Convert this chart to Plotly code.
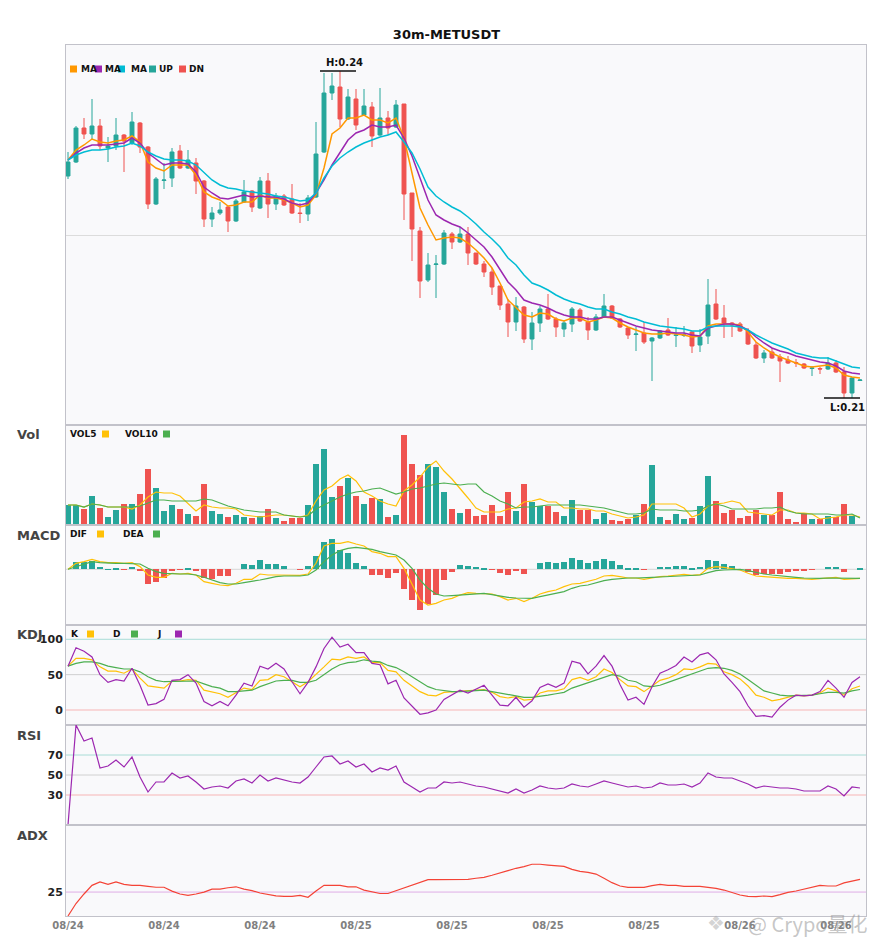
import plotly.graph_objects as go
from plotly.subplots import make_subplots

# 30m candles, METUSDT
open_ = [0.2315, 0.2329, 0.2363, 0.2357, 0.2365, 0.2343, 0.2345, 0.2356, 0.2348, 0.2368,
         0.2344, 0.2287, 0.23105, 0.2313, 0.2340, 0.2323, 0.2328, 0.2310, 0.2272, 0.2278,
         0.2284, 0.2270, 0.2289, 0.2300, 0.2283, 0.2310, 0.2287, 0.2295, 0.2292, 0.2278,
         0.2277, 0.2294, 0.2339, 0.2398, 0.2404, 0.2372, 0.2392, 0.2376, 0.2384, 0.2356,
         0.2373, 0.2364, 0.2387, 0.2298, 0.2260, 0.2211, 0.22265, 0.2227, 0.2257, 0.2249,
         0.2257, 0.2238, 0.2227, 0.2219, 0.2205, 0.2187, 0.2169, 0.2184, 0.2152, 0.2168,
         0.2182, 0.2172, 0.2162, 0.2167, 0.2181, 0.2169, 0.2161, 0.2174, 0.2185, 0.2172,
         0.2163, 0.21565, 0.2158, 0.2150, 0.2153, 0.2161, 0.21555, 0.21555, 0.2159, 0.2146,
         0.2155, 0.2187, 0.2173, 0.2168, 0.2167, 0.2160, 0.2146, 0.2133, 0.2139, 0.2134,
         0.2131, 0.21285, 0.2127, 0.21225, 0.21225, 0.2122, 0.2128, 0.2119, 0.2098, 0.21105]
close_ = [0.2329, 0.2363, 0.2357, 0.2365, 0.2345, 0.2345, 0.2356, 0.2350, 0.2369, 0.2344,
          0.2287, 0.2312, 0.2311, 0.2339, 0.2323, 0.2331, 0.2310, 0.2272, 0.2278, 0.2281,
          0.2270, 0.2290, 0.2299, 0.2284, 0.2310, 0.2287, 0.2295, 0.2286, 0.2278, 0.22775,
          0.2293, 0.2337, 0.2398, 0.2405, 0.2372, 0.2394, 0.2366, 0.2385, 0.2355, 0.2373,
          0.2363, 0.2386, 0.2297, 0.2262, 0.2210, 0.2226, 0.2227, 0.2258, 0.2249, 0.2257,
          0.2238, 0.2227, 0.2219, 0.2204, 0.2186, 0.2169, 0.2185, 0.2152, 0.2168, 0.2182,
          0.2172, 0.2164, 0.2168, 0.2182, 0.2170, 0.2161, 0.2174, 0.2185, 0.2173, 0.2164,
          0.2156, 0.2157, 0.2149, 0.2153, 0.2160, 0.2156, 0.2156, 0.2156, 0.2145, 0.2154,
          0.2186, 0.2172, 0.2168, 0.2166, 0.2160, 0.2147, 0.2133, 0.2138, 0.2133, 0.2130,
          0.2128, 0.2128, 0.2123, 0.2123, 0.2122, 0.2128, 0.2119, 0.2098, 0.2113, 0.2111]
high_ = [0.2339, 0.2365, 0.2373, 0.2392, 0.2372, 0.2354, 0.2373, 0.2357, 0.2379, 0.2369,
         0.2345, 0.2314, 0.2328, 0.2343, 0.2346, 0.2341, 0.2333, 0.2311, 0.2284, 0.2289,
         0.2285, 0.2292, 0.2311, 0.2301, 0.2314, 0.2318, 0.2298, 0.2297, 0.2307, 0.2288,
         0.2296, 0.2369, 0.2418, 0.2418, 0.2420, 0.2402, 0.2402, 0.2402, 0.2389, 0.2403,
         0.2380, 0.2391, 0.2387, 0.2298, 0.2264, 0.2238, 0.2236, 0.2261, 0.2259, 0.2264,
         0.2264, 0.2238, 0.2230, 0.2223, 0.2205, 0.2192, 0.2194, 0.2185, 0.2179, 0.2185,
         0.2197, 0.2174, 0.2171, 0.2184, 0.2183, 0.2174, 0.2177, 0.2197, 0.2186, 0.2173,
         0.2164, 0.2164, 0.2169, 0.2154, 0.2161, 0.2173, 0.2164, 0.2165, 0.2160, 0.2162,
         0.2212, 0.2202, 0.2186, 0.2169, 0.2169, 0.2163, 0.2149, 0.2141, 0.2143, 0.2137,
         0.2135, 0.2132, 0.2128, 0.2125, 0.2124, 0.2134, 0.2131, 0.2124, 0.2114, 0.2112]
low_ = [0.2312, 0.2328, 0.2352, 0.2351, 0.2341, 0.2329, 0.2341, 0.2319, 0.2346, 0.2338,
        0.2282, 0.2286, 0.2302, 0.2304, 0.2322, 0.2322, 0.2297, 0.2264, 0.2264, 0.2276,
        0.2259, 0.2269, 0.2288, 0.2279, 0.2282, 0.2273, 0.2281, 0.2285, 0.2277, 0.2268,
        0.2270, 0.2293, 0.2338, 0.2391, 0.2364, 0.2371, 0.2361, 0.2375, 0.2344, 0.2355,
        0.2356, 0.2363, 0.2271, 0.2230, 0.2193, 0.2209, 0.2193, 0.2226, 0.2242, 0.2248,
        0.2226, 0.2226, 0.2214, 0.2196, 0.2181, 0.2154, 0.2160, 0.2148, 0.2141, 0.2159,
        0.2171, 0.2154, 0.2154, 0.2159, 0.2169, 0.2151, 0.2160, 0.2173, 0.2172, 0.2163,
        0.2152, 0.2140, 0.2147, 0.2110, 0.2152, 0.2155, 0.2144, 0.2154, 0.2138, 0.2139,
        0.2147, 0.2171, 0.2153, 0.2154, 0.2159, 0.2146, 0.2132, 0.2128, 0.2132, 0.2109,
        0.2127, 0.2124, 0.2122, 0.2115, 0.2117, 0.2121, 0.2118, 0.2093, 0.2093, 0.2110]

ma5 = [0.2331, 0.2341, 0.2346, 0.2352, 0.2349, 0.2348, 0.2350, 0.2351, 0.2355, 0.2349,
       0.2329, 0.2323, 0.2320, 0.2326, 0.2326, 0.2326, 0.2316, 0.2299, 0.2294, 0.2291,
       0.2285, 0.2286, 0.2289, 0.2289, 0.2296, 0.2293, 0.2293, 0.2291, 0.2288, 0.2284,
       0.2286, 0.2296, 0.2323, 0.2357, 0.2363, 0.2373, 0.2373, 0.2376, 0.2371, 0.2371,
       0.2368, 0.2373, 0.2353, 0.2318, 0.2283, 0.2266, 0.2251, 0.2253, 0.2254, 0.2253,
       0.2248, 0.2241, 0.2233, 0.2223, 0.2208, 0.2191, 0.2183, 0.2176, 0.2174, 0.2178,
       0.2177, 0.2172, 0.2170, 0.2173, 0.2173, 0.2169, 0.2171, 0.2174, 0.2173, 0.2168,
       0.2164, 0.2161, 0.2158, 0.2157, 0.2157, 0.2158, 0.2157, 0.2156, 0.2154, 0.2155,
       0.2165, 0.2167, 0.2167, 0.2167, 0.2166, 0.2159, 0.2149, 0.2143, 0.2138, 0.2134,
       0.2131, 0.2128, 0.2125, 0.2124, 0.2125, 0.2126, 0.2123, 0.2116, 0.2114, 0.2113]
ma10 = [0.2331, 0.2338, 0.2343, 0.2346, 0.2346, 0.2346, 0.2347, 0.2348, 0.2353, 0.2348,
        0.2338, 0.2332, 0.2326, 0.2328, 0.2328, 0.2327, 0.2319, 0.2304, 0.2298, 0.2293,
        0.2292, 0.2294, 0.2296, 0.2294, 0.2295, 0.2294, 0.2294, 0.2292, 0.2288, 0.2286,
        0.2288, 0.2298, 0.2311, 0.2326, 0.2338, 0.2351, 0.2358, 0.2361, 0.2366, 0.2364,
        0.2364, 0.2366, 0.2353, 0.2335, 0.2313, 0.2291, 0.2276, 0.2271, 0.2267, 0.2264,
        0.2258, 0.2251, 0.2244, 0.2234, 0.2221, 0.2209, 0.2201, 0.2191, 0.2188, 0.2186,
        0.2183, 0.2179, 0.2176, 0.2174, 0.2174, 0.2172, 0.2172, 0.2174, 0.2174, 0.2171,
        0.2168, 0.2165, 0.2163, 0.2161, 0.2160, 0.2159, 0.2158, 0.2158, 0.2156, 0.2155,
        0.2163, 0.2165, 0.2167, 0.2167, 0.2165, 0.2161, 0.2154, 0.2148, 0.2143, 0.2140,
        0.2138, 0.2135, 0.2133, 0.2131, 0.2129, 0.2128, 0.2125, 0.2120, 0.2118, 0.2117]
ma20 = [0.2331, 0.2336, 0.2339, 0.2341, 0.2341, 0.2342, 0.2344, 0.2345, 0.2348, 0.2345,
        0.2339, 0.2335, 0.2332, 0.2331, 0.2331, 0.2330, 0.2326, 0.2318, 0.2311, 0.2306,
        0.2303, 0.2302, 0.2300, 0.2299, 0.2298, 0.2297, 0.2295, 0.2294, 0.2292, 0.2290,
        0.2291, 0.2298, 0.2313, 0.2325, 0.2333, 0.2339, 0.2344, 0.2348, 0.2351, 0.2354,
        0.2356, 0.2359, 0.2349, 0.2338, 0.2322, 0.2304, 0.2295, 0.2289, 0.2284, 0.2280,
        0.2274, 0.2267, 0.2259, 0.2252, 0.2244, 0.2233, 0.2226, 0.2216, 0.2208, 0.2205,
        0.2201, 0.2196, 0.2192, 0.2189, 0.2187, 0.2184, 0.2182, 0.2182, 0.2179, 0.2177,
        0.2174, 0.2172, 0.2169, 0.2167, 0.2165, 0.2164, 0.2163, 0.2162, 0.2160, 0.2160,
        0.2164, 0.2165, 0.2165, 0.2165, 0.2164, 0.2161, 0.2156, 0.2152, 0.2148, 0.2145,
        0.2142, 0.2138, 0.2136, 0.2134, 0.2133, 0.2133, 0.2130, 0.2127, 0.2124, 0.2123]

# volume in 10k
vol = [20, 20, 16, 29, 17, 8, 15, 21, 21, 31,
       56, 37, 14, 20, 16, 11, 9, 41, 14, 11,
       8, 10, 8, 7, 9, 16, 7, 4, 7, 7,
       20, 61, 76, 28, 39, 47, 29, 21, 27, 26,
       8, 10, 90, 61, 50, 61, 58, 33, 16, 12,
       16, 9, 10, 20, 9, 33, 14, 41, 23, 19,
       19, 13, 9, 25, 15, 15, 6, 12, 5, 4,
       6, 10, 21, 60, 8, 5, 11, 6, 7, 19,
       49, 24, 12, 15, 7, 9, 15, 10, 10, 33,
       6, 3, 12, 6, 6, 9, 8, 21, 9, 0.5]
vol5 = [20, 20, 18, 21, 20, 18, 18, 18, 16, 20,
        28, 33, 32, 32, 29, 21, 14, 20, 18, 17,
        17, 16, 10, 9, 8, 9, 10, 10, 9, 8,
        10, 24, 35, 39, 46, 50, 44, 33, 29, 24,
        21, 19, 34, 40, 48, 58, 64, 54, 46, 37,
        27, 17, 13, 13, 13, 16, 17, 23, 24, 26,
        23, 23, 17, 17, 16, 16, 14, 14, 11, 9,
        7, 8, 10, 21, 21, 21, 21, 17, 8, 11,
        19, 21, 22, 24, 22, 13, 12, 11, 10, 15,
        15, 12, 12, 11, 6, 7, 8, 10, 10, 8]
vol10 = [20, 20, 18, 21, 20, 18, 18, 18, 18, 19,
         22, 25, 25, 24, 24, 24, 24, 26, 25, 22,
         19, 17, 15, 14, 13, 13, 13, 10, 9, 8,
         9, 16, 20, 24, 28, 31, 33, 34, 36, 37,
         34, 31, 33, 36, 37, 39, 41, 42, 41, 40,
         41, 41, 33, 29, 24, 21, 17, 18, 18, 19,
         20, 20, 20, 20, 20, 19, 18, 17, 15, 13,
         11, 11, 12, 16, 15, 15, 15, 14, 14, 15,
         19, 21, 19, 16, 16, 16, 16, 17, 17, 18,
         14, 12, 11, 11, 11, 11, 10, 10, 11, 7]

# MACD (x1e-5)
dif = [0, 6.0, 7.7, 10.0, 7.7, 6.7, 6.7, 6.0, 6.7, 2.7,
       -5.7, -8.0, -8.0, -4.0, -4.7, -4.0, -5.7, -12.3, -14.0, -15.7,
       -16.3, -14.0, -10.0, -10.0, -4.7, -5.7, -5.7, -5.7, -5.7, -6.0,
       -4.7, 6.0, 23.3, 26.0, 26.0, 27.7, 25.3, 23.3, 17.7, 16.0,
       12.7, 12.7, 1.0, -14.7, -30.7, -35.7, -34.0, -30.7, -29.0, -25.7,
       -23.3, -24.0, -24.0, -24.7, -27.3, -30.7, -29.0, -32.3, -29.0, -24.7,
       -22.3, -20.7, -17.3, -14.7, -14.0, -12.3, -10.0, -6.7, -6.0, -7.3,
       -8.7, -8.7, -10.0, -8.7, -7.3, -6.7, -6.0, -5.0, -6.0, -5.3,
       1.0, 2.7, 2.0, 1.0, -0.7, -4.0, -6.7, -7.3, -8.0, -8.7,
       -9.0, -9.0, -9.7, -10.0, -9.3, -8.7, -8.0, -10.0, -9.3, -9.0]
dea = [0, 2.7, 5.3, 7.7, 6.7, 6.0, 6.0, 6.0, 6.0, 5.3,
       1.0, -2.3, -4.0, -4.7, -4.7, -4.7, -5.7, -8.0, -10.7, -13.3,
       -14.7, -14.7, -13.3, -12.3, -10.7, -9.0, -7.3, -6.7, -6.7, -6.7,
       -5.7, -0.7, 7.7, 14.3, 18.7, 21.0, 22.0, 21.3, 20.0, 17.7,
       16.0, 14.3, 9.3, 1.0, -10.7, -19.0, -24.7, -26.7, -26.3, -25.7,
       -24.7, -24.0, -24.0, -25.3, -26.7, -28.0, -28.7, -29.0, -29.0, -27.3,
       -25.7, -24.0, -22.3, -19.0, -16.7, -15.7, -13.3, -11.3, -10.0, -9.3,
       -8.7, -8.7, -8.7, -8.0, -7.7, -7.3, -6.7, -6.3, -6.0, -5.7,
       -3.3, -1.3, -0.7, 0, 0, -1.3, -3.3, -4.7, -5.7, -6.7,
       -7.3, -8.0, -8.7, -9.0, -9.0, -8.7, -8.7, -8.7, -8.7, -9.0]
macd_hist = [0, 7.3, 7.3, 8.7, 2.7, 0.3, 1.3, -0.7, 2.7, -1.3,
             -14.7, -12.7, -9.0, -1.3, -0.7, 1.3, -1.3, -9.0, -10.0, -6.7,
             -6.7, 0, 5.3, 4.3, 9.3, 5.3, 5.3, 3.3, 0, -0.7,
             3.3, 13.3, 27.3, 30.3, 19.3, 16.3, 6.3, 3.3, -5.7, -5.7,
             -8.7, -3.3, -19.7, -30.7, -40.7, -34.7, -25.7, -10.7, -2.7, 4.3,
             3.3, 2.3, 1.3, -0.7, -3.3, -5.7, -1.3, -4.7, 0, 6.3,
             7.3, 6.3, 7.3, 11.3, 9.3, 6.3, 8.3, 10.3, 8.3, 4.3,
             1.3, 1.3, -0.7, 0, 2.3, 2.3, 3.3, 3.3, 1.3, 2.3,
             9.3, 8.3, 5.3, 3.3, 0, -2.7, -5.7, -4.7, -4.7, -4.7,
             -2.7, -1.7, -1.7, -0.7, 0, 2.3, 2.3, -2.7, 0, 1.3]

k_ = [62, 73, 73, 71, 61, 55, 55, 52, 58, 45, 34, 32, 31, 41, 41, 43, 42, 28, 25, 23,
      18, 24, 31, 29, 42, 43, 50, 47, 40, 33, 40, 50, 61, 72, 71, 75, 73, 75, 67, 67,
      56, 54, 42, 34, 26, 21, 20, 25, 26, 27, 28, 28, 29, 25, 19, 17, 19, 14, 15, 24,
      27, 27, 30, 43, 46, 42, 47, 58, 53, 43, 34, 33, 26, 34, 42, 45, 50, 58, 57, 61,
      66, 65, 54, 50, 44, 34, 21, 18, 13, 15, 18, 21, 20, 21, 24, 31, 27, 21, 30, 34]
d_ = [62, 66, 68, 68, 66, 62, 60, 58, 58, 54, 47, 42, 40, 40, 40, 41, 41, 37, 33, 31,
      26, 26, 27, 28, 33, 37, 41, 42, 42, 39, 39, 42, 50, 58, 64, 67, 68, 71, 69, 68,
      63, 60, 54, 47, 39, 33, 29, 27, 26, 26, 27, 27, 28, 26, 24, 21, 20, 18, 18, 19,
      21, 23, 25, 31, 35, 39, 42, 46, 50, 48, 42, 40, 34, 33, 35, 39, 43, 48, 51, 56,
      59, 60, 59, 56, 51, 43, 35, 27, 24, 21, 20, 20, 20, 21, 23, 25, 25, 24, 27, 29]
j_ = [62, 88, 83, 75, 50, 39, 43, 41, 59, 35, 7, 9, 15, 42, 43, 50, 38, 12, 6, 12,
      6, 21, 38, 34, 62, 58, 66, 58, 40, 23, 39, 61, 87, 103, 89, 93, 81, 81, 66, 64,
      37, 42, 17, 6, -6, -4, 0, 15, 21, 28, 24, 30, 35, 21, 7, 6, 18, 4, 13, 32,
      37, 32, 38, 69, 66, 51, 62, 77, 62, 36, 14, 18, 8, 33, 52, 57, 63, 75, 68, 78,
      81, 71, 51, 39, 26, 6, -9, -8, -10, 4, 14, 21, 20, 21, 26, 42, 31, 18, 39, 47]

rsi = [0, 100, 84, 87, 57, 59, 65, 58, 68, 48, 33, 43, 43, 52, 47, 49, 43, 36, 38, 39,
       37, 44, 46, 42, 50, 44, 47, 45, 43, 42, 48, 58, 68, 69, 61, 64, 58, 61, 53, 57,
       55, 59, 43, 38, 33, 37, 37, 43, 42, 43, 41, 39, 38, 36, 34, 32, 36, 32, 35, 39,
       37, 36, 37, 41, 39, 38, 41, 44, 42, 40, 38, 39, 37, 38, 42, 40, 40, 41, 38, 42,
       52, 48, 47, 47, 44, 41, 37, 39, 38, 37, 37, 36, 34, 34, 34, 39, 36, 29, 38, 37]

adx = [0, 13, 23, 32, 35.5, 33, 35.5, 33, 32, 32, 31, 30, 30, 26, 23, 21.5, 23, 25, 28, 28,
       29.5, 30.5, 28, 26.5, 24, 22.5, 21, 20.5, 20.5, 21.5, 19.5, 26, 32, 32, 32, 30.5, 30.5, 27, 25, 23.5,
       23.5, 26.5, 29.5, 32, 35.5, 38, 38, 38, 38.3, 38.3, 38.3, 39.4, 40.4, 42.5, 44.5, 47.3, 49.8, 51.5, 54, 54,
       53.2, 52.2, 51.8, 48.7, 46.6, 45.6, 43.8, 39.4, 34.8, 31.3, 29.9, 29.9, 29.9, 31.7, 33, 32, 32, 31, 31, 31,
       29.9, 28.9, 27.1, 24.7, 21.9, 20.5, 20.2, 20.9, 20.2, 22.3, 24.7, 26.1, 28.2, 29.9, 32, 31.3, 31.3, 34.5, 36.2, 38.3]

tick_idx = [0, 12, 24, 36, 48, 60, 72, 84, 96]
tick_text = ["08/24", "08/24", "08/24", "08/25", "08/25", "08/25", "08/25", "08/26", "08/26"]

UP_C = "#26a69a"
DN_C = "#ef5350"
FONT = "DejaVu Sans"

x = list(range(len(close_)))
bar_colors = [UP_C if c >= o else DN_C for o, c in zip(open_, close_)]
hist_colors = [UP_C if v >= 0 else DN_C for v in macd_hist]

fig = make_subplots(rows=6, cols=1, shared_xaxes=True, vertical_spacing=0,
                    row_heights=[380, 100, 100, 100, 100, 91])

fig.add_trace(go.Candlestick(x=x, open=open_, high=high_, low=low_, close=close_,
                             increasing=dict(line=dict(color=UP_C, width=1), fillcolor=UP_C),
                             decreasing=dict(line=dict(color=DN_C, width=1), fillcolor=DN_C)),
              row=1, col=1)
fig.add_trace(go.Scatter(x=x, y=ma5, mode="lines", line=dict(color="#ff9800", width=1.5)), row=1, col=1)
fig.add_trace(go.Scatter(x=x, y=ma10, mode="lines", line=dict(color="#9c27b0", width=1.5)), row=1, col=1)
fig.add_trace(go.Scatter(x=x, y=ma20, mode="lines", line=dict(color="#00bcd4", width=1.5)), row=1, col=1)

fig.add_trace(go.Bar(x=x, y=vol, marker=dict(color=bar_colors, line=dict(width=0)), width=0.75), row=2, col=1)
fig.add_trace(go.Scatter(x=x, y=vol5, mode="lines", line=dict(color="#ffc107", width=1.2)), row=2, col=1)
fig.add_trace(go.Scatter(x=x, y=vol10, mode="lines", line=dict(color="#4caf50", width=1.2)), row=2, col=1)

fig.add_trace(go.Bar(x=x, y=macd_hist, marker=dict(color=hist_colors, line=dict(width=0)), width=0.75), row=3, col=1)
fig.add_trace(go.Scatter(x=x, y=dif, mode="lines", line=dict(color="#ffc107", width=1.2)), row=3, col=1)
fig.add_trace(go.Scatter(x=x, y=dea, mode="lines", line=dict(color="#4caf50", width=1.2)), row=3, col=1)

fig.add_trace(go.Scatter(x=x, y=k_, mode="lines", line=dict(color="#ffc107", width=1.2)), row=4, col=1)
fig.add_trace(go.Scatter(x=x, y=d_, mode="lines", line=dict(color="#4caf50", width=1.2)), row=4, col=1)
fig.add_trace(go.Scatter(x=x, y=j_, mode="lines", line=dict(color="#9c27b0", width=1.2)), row=4, col=1)

fig.add_trace(go.Scatter(x=x, y=rsi, mode="lines", line=dict(color="#9c27b0", width=1.2)), row=5, col=1)
fig.add_trace(go.Scatter(x=x, y=adx, mode="lines", line=dict(color="#f44336", width=1.2)), row=6, col=1)

# reference lines
fig.add_hline(y=0, line=dict(color="#d6d6d6", width=1), layer="below", row=3, col=1)
for yv, c in [(100, "#a8dcd6"), (50, "#d0d0d0"), (0, "#f7b5b5")]:
    fig.add_hline(y=yv, line=dict(color=c, width=1), layer="below", row=4, col=1)
for yv, c in [(70, "#a8dcd6"), (50, "#d0d0d0"), (30, "#f7b5b5")]:
    fig.add_hline(y=yv, line=dict(color=c, width=1), layer="below", row=5, col=1)
fig.add_hline(y=25, line=dict(color="#dfaee6", width=1), layer="below", row=6, col=1)

AX = dict(showline=True, mirror=True, linecolor="#c2c2ca", linewidth=1,
          zeroline=False, showgrid=False, ticks="")
fig.update_xaxes(range=[-0.25, 99.75], rangeslider_visible=False, **AX)
fig.update_xaxes(tickvals=tick_idx, ticktext=tick_text,
                 tickfont=dict(family=FONT, size=10, color="#808080", weight="bold"), row=6, col=1)
fig.update_yaxes(showticklabels=False, **AX)
ymid = (0.2066 + 0.2446) / 2
fig.update_yaxes(range=[0.2066, 0.2446], tickvals=[ymid], showgrid=True, gridcolor="#dcdcdc", row=1, col=1)
fig.update_yaxes(range=[0, 100], row=2, col=1)
fig.update_yaxes(range=[-55.7, 44.3], row=3, col=1)
TF = dict(family=FONT, size=11, color="#222222", weight="bold")
fig.update_yaxes(range=[-21.2, 120.2], tickvals=[0, 50, 100], showticklabels=True, tickfont=TF, row=4, col=1)
fig.update_yaxes(range=[0, 100], tickvals=[30, 50, 70], showticklabels=True, tickfont=TF, row=5, col=1)
fig.update_yaxes(range=[0, 95], tickvals=[25], showticklabels=True, tickfont=TF, row=6, col=1)

# the page adds an 8px body margin, so the figure is drawn 8px smaller
# pixel helpers for legends / labels, in page pixels (plot area 66..866 x 45..916)
def px(v):
    return (v - 66) / 800.0

def py(v):
    return (916 - v) / 871.0

ann = []

def label(xp, yp, text, size=9, color="#111111", anchor="left"):
    # annotation box pads text by ~2px
    ann.append(dict(x=px(xp - 2), y=py(yp), xref="paper", yref="paper", text=text, showarrow=False,
                    xanchor=anchor, yanchor="middle",
                    font=dict(family=FONT, size=size, color=color, weight="bold")))

def square(xp, yp, color):
    fig.add_shape(type="rect", xref="paper", yref="paper", x0=px(xp), x1=px(xp + 7),
                  y0=py(yp + 3.5), y1=py(yp - 3.5), fillcolor=color, line=dict(width=0))

# main legend
for sx, tx, t, c in [(70, 81, "MA", "#ff9800"), (95, 105, "MA", "#9c27b0"), (118, 131, "MA", "#00bcd4"),
                     (149, 159, "UP", UP_C), (179, 189, "DN", DN_C)]:
    square(sx, 69, c)
    label(tx, 69, t)
# vol legend
label(70, 434, "VOL5"); square(102, 434, "#ffc107")
label(125, 434, "VOL10"); square(163, 434, "#4caf50")
# macd legend
label(70, 534, "DIF"); square(97, 534, "#ffc107")
label(123, 534, "DEA"); square(153, 534, "#4caf50")
# kdj legend
label(71, 634, "K"); square(87, 634, "#ffc107")
label(113, 634, "D"); square(131, 634, "#4caf50")
label(157, 634, "J"); square(175, 634, "#9c27b0")

# panel names
for yy, t in [(434, "Vol"), (535, "MACD"), (634, "KDJ"), (735, "RSI"), (835, "ADX")]:
    label(17, yy, t, size=13, color="#444444")

# high / low markers
hi = max(high_)
hi_i = high_.index(hi)
lo = min(low_)
lo_i = low_.index(lo)
fig.add_shape(type="line", xref="x", yref="y", x0=hi_i - 2.5, x1=hi_i + 2, y0=hi, y1=hi,
              line=dict(color="#111111", width=1.5))
fig.add_shape(type="line", xref="x", yref="y", x0=lo_i - 2.5, x1=lo_i + 2, y0=lo, y1=lo,
              line=dict(color="#111111", width=1.5))
ann.append(dict(x=hi_i + 0.5, y=hi, xref="x", yref="y", text=f"H:{hi:.2f}", showarrow=False,
                yanchor="bottom", yshift=1, font=dict(family=FONT, size=10, color="#111111", weight="bold")))
ann.append(dict(x=lo_i + 0.4, y=lo, xref="x", yref="y", text=f"L:{lo:.2f}", showarrow=False,
                yanchor="top", yshift=-2, font=dict(family=FONT, size=10, color="#111111", weight="bold")))

# watermark
ann.append(dict(x=px(716), y=py(923), xref="paper", yref="paper", text="❖", showarrow=False,
                xanchor="center", yanchor="middle",
                font=dict(family="DejaVu Sans", size=20, color="rgba(170,170,170,0.5)")))
ann.append(dict(x=px(746), y=py(923), xref="paper", yref="paper", text="@ Crypo量化", showarrow=False,
                xanchor="left", yanchor="middle",
                font=dict(family="Noto Sans CJK SC", size=20, color="rgba(150,150,150,0.55)")))

fig.update_layout(
    width=877, height=942,
    margin=dict(l=58, r=19, t=37, b=34),
    paper_bgcolor="white", plot_bgcolor="#f9f9fb",
    showlegend=False,
    title=dict(text="30m-METUSDT", x=0.5, xanchor="center", y=1 - 26 / 942, yanchor="middle",
               font=dict(family=FONT, size=13, color="#111111", weight="bold")),
    annotations=ann,
    bargap=0,
)

fig.write_html("out.html")
